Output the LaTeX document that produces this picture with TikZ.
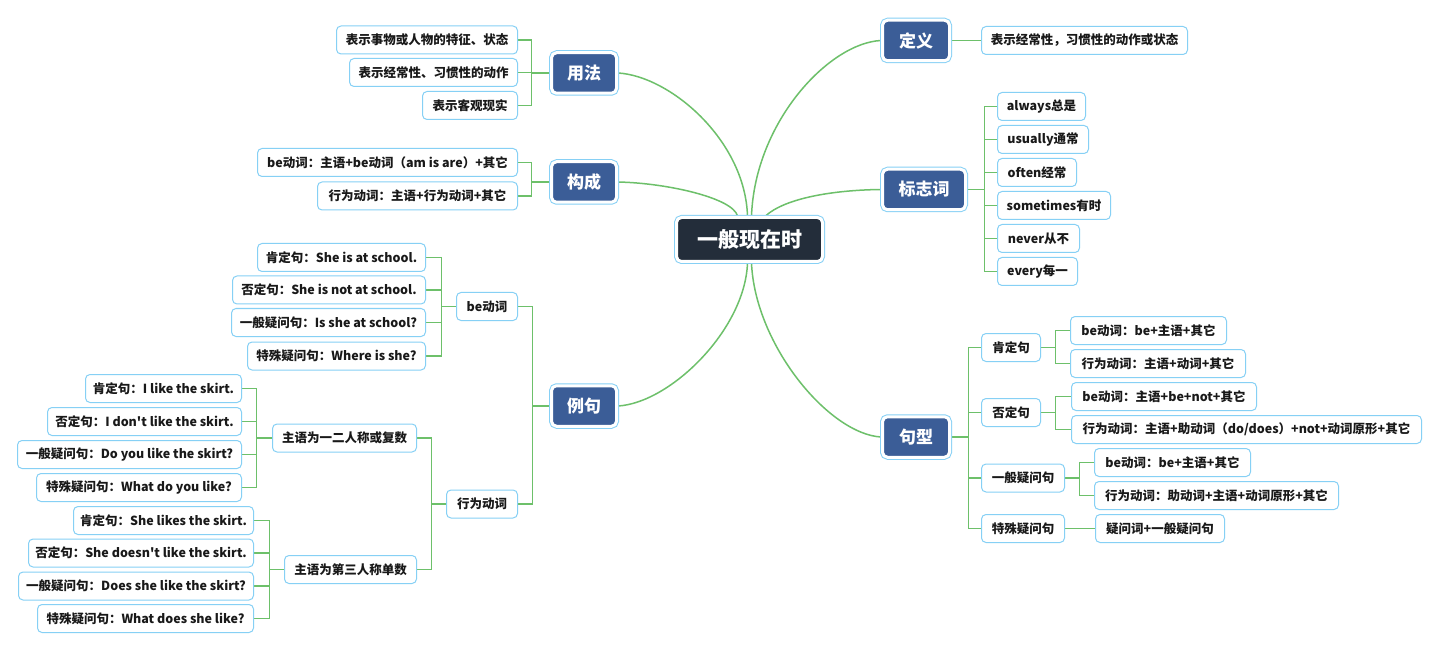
\documentclass[tikz,border=0pt]{standalone}
\usepackage{fontspec}
\setmainfont{Noto Sans CJK SC}[Ligatures=TeXOff]
\usetikzlibrary{calc,backgrounds}
\definecolor{lb}{HTML}{86D0F5}
\definecolor{gr}{HTML}{6DC06A}
\definecolor{topicblue}{HTML}{3B5D97}
\definecolor{darkroot}{HTML}{232D3A}
\begin{document}
\begin{tikzpicture}[x=1pt,y=-1pt,
  leaf/.style={draw=lb, fill=white, rounded corners=4.5, line width=1, minimum height=28, inner sep=0, font=\fontsize{12.5}{14}\selectfont\bfseries, text=black!90},
  topic/.style={fill=topicblue, draw=white, line width=3, rounded corners=5, preaction={draw=lb, line width=5}, minimum height=40.5, inner sep=0, font=\fontsize{17}{20}\selectfont\bfseries, text=white},
  rootbox/.style={fill=darkroot, draw=white, line width=3, rounded corners=5, preaction={draw=lb, line width=5}, minimum width=146, minimum height=44, inner sep=0, font=\fontsize{21}{24}\selectfont\bfseries, text=white},
  link/.style={draw=gr, line width=1.5}
]
\useasboundingbox (0,0) rectangle (1440,652);

% root
\node[rootbox] (c) at (749.5,239.5) {一般现在时};

% topics
\node[topic, minimum width=67] (dingyi) at (916,40.5) {定义};
\node[topic, minimum width=65] (yongfa) at (584,73) {用法};
\node[topic, minimum width=83] (biaozhi) at (924,189.5) {标志词};
\node[topic, minimum width=65] (goucheng) at (584,182) {构成};
\node[topic, minimum width=65] (liju) at (584,406) {例句};
\node[topic, minimum width=67] (juxing) at (916,437) {句型};

% 定义
\node[leaf, minimum width=206] (d1) at (1084.5,40.5) {表示经常性，习惯性的动作或状态};

% 用法
\node[leaf, minimum width=181] (y1) at (427,40) {表示事物或人物的特征、状态};
\node[leaf, minimum width=168] (y2) at (433.5,72.5) {表示经常性、习惯性的动作};
\node[leaf, minimum width=95] (y3) at (470,105.5) {表示客观现实};

% 构成
\node[leaf, minimum width=260] (g1) at (387.5,162.5) {be动词：主语+be动词（am is are）+其它};
\node[leaf, minimum width=200] (g2) at (417.5,196) {行为动词：主语+行为动词+其它};

% 标志词
\node[leaf, minimum width=88] (b1) at (1041.5,106.5) {always总是};
\node[leaf, minimum width=91] (b2) at (1043,139.5) {usually通常};
\node[leaf, minimum width=79] (b3) at (1037,172.5) {often经常};
\node[leaf, minimum width=113] (b4) at (1054,205.5) {sometimes有时};
\node[leaf, minimum width=82] (b5) at (1038.5,238.5) {never从不};
\node[leaf, minimum width=80] (b6) at (1037.5,271.5) {every每一};

% 句型
\node[leaf, minimum width=59] (s1) at (1011,347.5) {肯定句};
\node[leaf, minimum width=59] (s2) at (1011,412.5) {否定句};
\node[leaf, minimum width=83] (s3) at (1023,478) {一般疑问句};
\node[leaf, minimum width=83] (s4) at (1023,528.5) {特殊疑问句};

\node[leaf, minimum width=156] (s11) at (1148.5,330.5) {be动词：be+主语+其它};
\node[leaf, minimum width=175] (s12) at (1158,363.5) {行为动词：主语+动词+其它};
\node[leaf, minimum width=185] (s21) at (1164,396.5) {be动词：主语+be+not+其它};
\node[leaf, minimum width=350] (s22) at (1246.5,429.5) {行为动词：主语+助动词（do/does）+not+动词原形+其它};
\node[leaf, minimum width=156] (s31) at (1172.5,462.5) {be动词：be+主语+其它};
\node[leaf, minimum width=244] (s32) at (1216.5,495.5) {行为动词：助动词+主语+动词原形+其它};
\node[leaf, minimum width=129] (s41) at (1160,528.5) {疑问词+一般疑问句};

% 例句
\node[leaf, minimum width=61] (e1) at (487,306.5) {be动词};
\node[leaf, minimum width=71] (e2) at (482,504) {行为动词};

\node[leaf, minimum width=168] (e11) at (341.5,257.5) {肯定句：She is at school.};
\node[leaf, minimum width=193] (e12) at (329,290) {否定句：She is not at school.};
\node[leaf, minimum width=194] (e13) at (328.5,322.5) {一般疑问句：Is she at school?};
\node[leaf, minimum width=178] (e14) at (336.5,356) {特殊疑问句：Where is she?};

\node[leaf, minimum width=144] (e21) at (344.5,438) {主语为一二人称或复数};
\node[leaf, minimum width=132] (e22) at (350.5,569.5) {主语为第三人称单数};

\node[leaf, minimum width=156] (e211) at (163.5,388.5) {肯定句：I like the skirt.};
\node[leaf, minimum width=194] (e212) at (144.5,421.5) {否定句：I don't like the skirt.};
\node[leaf, minimum width=224] (e213) at (129.5,454.5) {一般疑问句：Do you like the skirt?};
\node[leaf, minimum width=205] (e214) at (139,487.5) {特殊疑问句：What do you like?};

\node[leaf, minimum width=180] (e221) at (163.5,520.5) {肯定句：She likes the skirt.};
\node[leaf, minimum width=225] (e222) at (141,553) {否定句：She doesn't like the skirt.};
\node[leaf, minimum width=235] (e223) at (136,586) {一般疑问句：Does she like the skirt?};
\node[leaf, minimum width=216] (e224) at (145.5,618.5) {特殊疑问句：What does she like?};

\begin{pgfonlayer}{background}
\fill[white] (0,0) rectangle (1440,652);
% root curves
\draw[link] (yongfa.east) .. controls (670,76) and (745,140) .. ($(c.north)+(-2,0)$);
\draw[link] (goucheng.east) .. controls (667,183) and (733,198) .. ($(c.north)+(-12,0)$);
\draw[link] (dingyi.west) .. controls (829,43) and (755,122) .. ($(c.north)+(2,0)$);
\draw[link] (biaozhi.west) .. controls (834,190) and (785,198) .. ($(c.north)+(16,0)$);
\draw[link] (liju.east) .. controls (670,403) and (745,330) .. ($(c.south)+(-2,0)$);
\draw[link] (juxing.west) .. controls (829,434) and (755,345) .. ($(c.south)+(2,0)$);
% 定义
\draw[link] (dingyi.east) -- (d1.west);
% 用法
\foreach \n in {y1,y2,y3} \draw[link] (yongfa.west) -- ++(-18.5,0) |- (\n.east);
% 构成
\foreach \n in {g1,g2} \draw[link] (goucheng.west) -- ++(-18.5,0) |- (\n.east);
% 标志词
\foreach \n in {b1,b2,b3,b4,b5,b6} \draw[link] (biaozhi.east) -- ++(17.5,0) |- (\n.west);
% 句型
\foreach \n in {s1,s2,s3,s4} \draw[link] (juxing.east) -- ++(17.5,0) |- (\n.west);
\foreach \n in {s11,s12} \draw[link] (s1.east) -- ++(14.5,0) |- (\n.west);
\foreach \n in {s21,s22} \draw[link] (s2.east) -- ++(14.5,0) |- (\n.west);
\foreach \n in {s31,s32} \draw[link] (s3.east) -- ++(14.5,0) |- (\n.west);
\draw[link] (s4.east) -- (s41.west);
% 例句
\foreach \n in {e1,e2} \draw[link] (liju.west) -- ++(-17.5,0) |- (\n.east);
\foreach \n in {e11,e12,e13,e14} \draw[link] (e1.west) -- ++(-14.5,0) |- (\n.east);
\foreach \n in {e21,e22} \draw[link] (e2.west) -- ++(-14.5,0) |- (\n.east);
\foreach \n in {e211,e212,e213,e214} \draw[link] (e21.west) -- ++(-15.5,0) |- (\n.east);
\foreach \n in {e221,e222,e223,e224} \draw[link] (e22.west) -- ++(-14.5,0) |- (\n.east);
\end{pgfonlayer}
\end{tikzpicture}
\end{document}
